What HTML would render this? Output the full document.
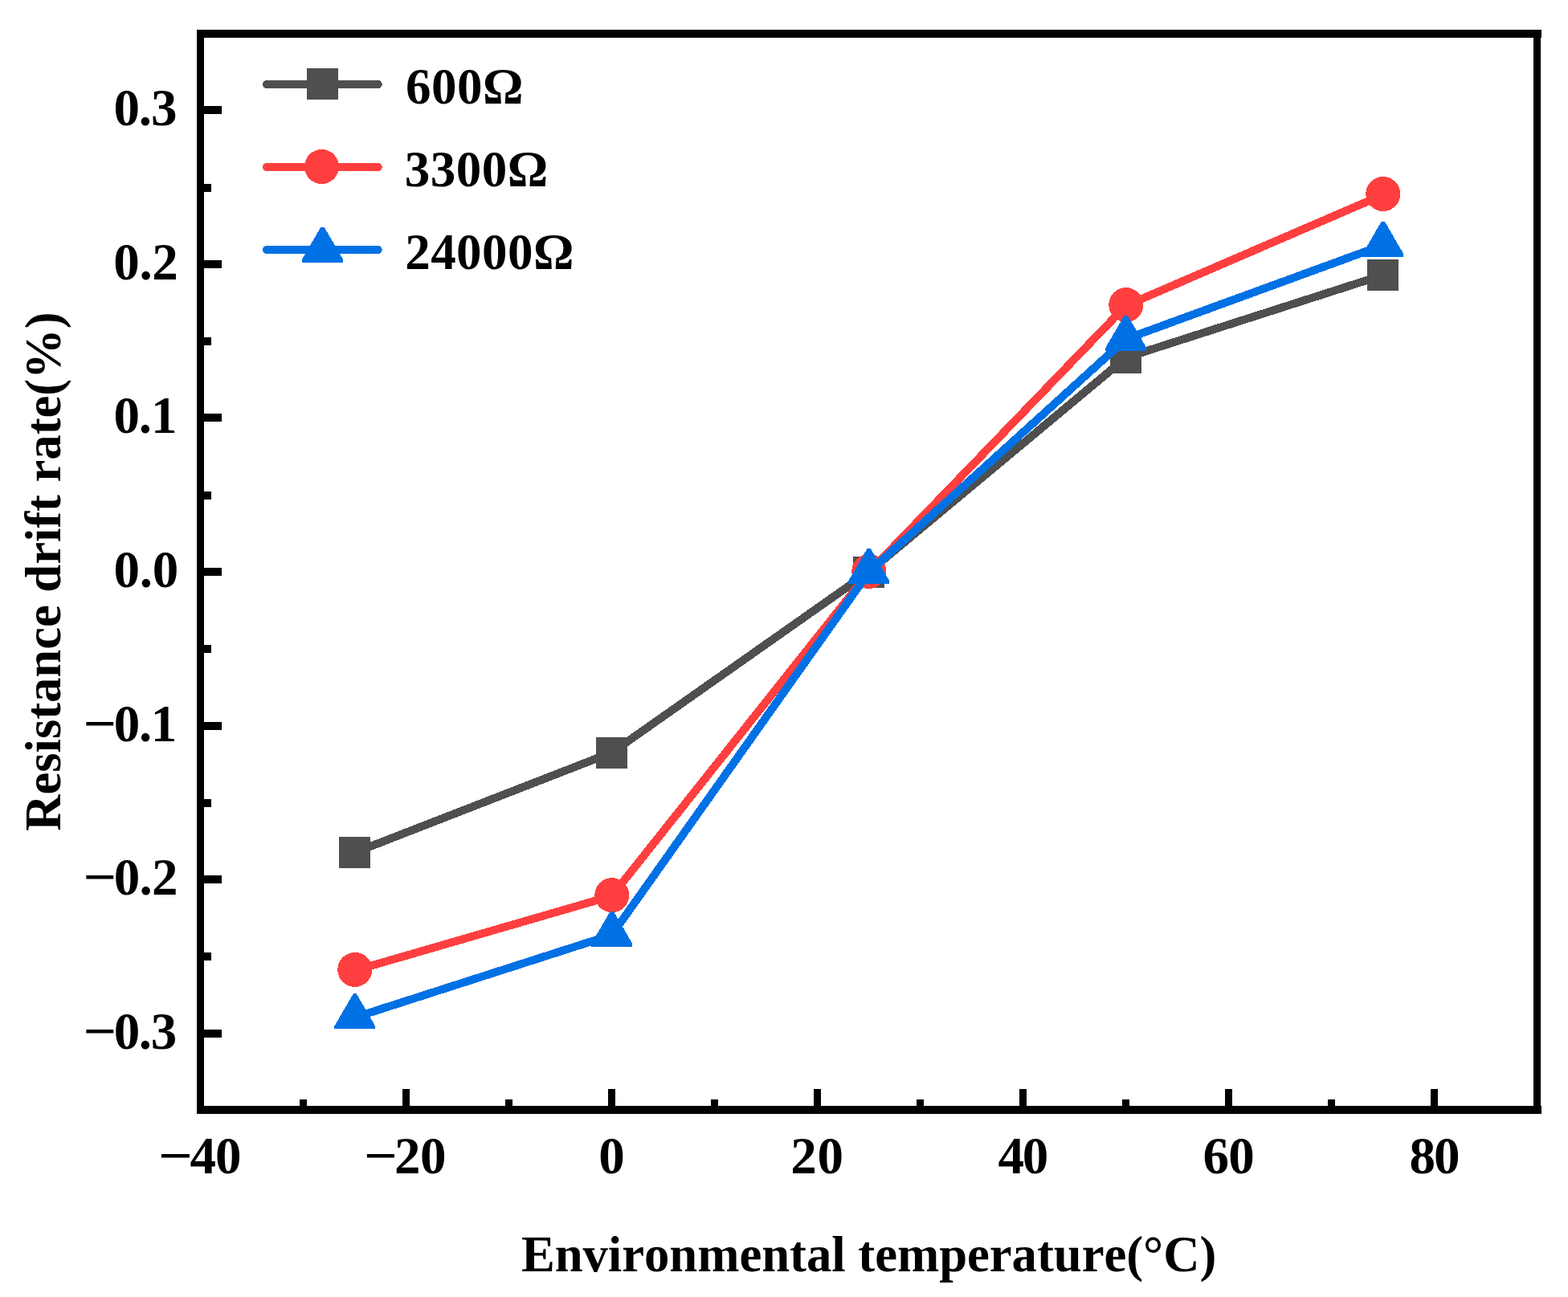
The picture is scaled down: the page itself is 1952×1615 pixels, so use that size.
<!DOCTYPE html><html><head><meta charset="utf-8"><title>Resistance drift rate vs environmental temperature</title><style>
html,body{margin:0;padding:0;background:#fff;width:1952px;height:1615px;overflow:hidden}
svg{display:block}
text{font-family:"Liberation Serif", "Times New Roman", serif;font-weight:bold;fill:#000;font-kerning:none}
</style></head><body>
<svg width="1952" height="1615" viewBox="0 0 1952 1615" shape-rendering="crispEdges">
<rect width="1952" height="1615" fill="#fff"/>
<polyline points="441.75,1061.50 761.75,937.00 1081.75,712.00 1401.75,445.30 1721.75,342.50" fill="none" stroke="#4f4f4f" stroke-width="10" stroke-linejoin="round"/>
<g fill="#4f4f4f">
<rect x="422.25" y="1042.00" width="39" height="39"/>
<rect x="742.25" y="917.50" width="39" height="39"/>
<rect x="1062.25" y="692.50" width="39" height="39"/>
<rect x="1382.25" y="425.80" width="39" height="39"/>
<rect x="1702.25" y="323.00" width="39" height="39"/>
</g>
<polyline points="441.75,1208.40 761.75,1115.60 1081.75,712.50 1401.75,380.60 1721.75,242.50" fill="none" stroke="#ff3f3f" stroke-width="10" stroke-linejoin="round"/>
<g fill="#ff3f3f">
<circle cx="441.75" cy="1207.40" r="21.5"/>
<circle cx="761.75" cy="1114.60" r="21.5"/>
<circle cx="1081.75" cy="711.50" r="21.5"/>
<circle cx="1401.75" cy="379.60" r="21.5"/>
<circle cx="1721.75" cy="241.50" r="21.5"/>
</g>
<polyline points="441.75,1266.90 761.75,1164.00 1081.75,712.30 1401.75,422.10 1721.75,305.20" fill="none" stroke="#0071e5" stroke-width="10" stroke-linejoin="round"/>
<g fill="#0071e5">
<polygon points="439.75,1237.40 443.75,1237.40 467.25,1277.90 467.25,1281.40 416.25,1281.40 416.25,1277.90"/>
<polygon points="759.75,1134.50 763.75,1134.50 787.25,1175.00 787.25,1178.50 736.25,1178.50 736.25,1175.00"/>
<polygon points="1079.75,682.80 1083.75,682.80 1107.25,723.30 1107.25,726.80 1056.25,726.80 1056.25,723.30"/>
<polygon points="1399.75,392.60 1403.75,392.60 1427.25,433.10 1427.25,436.60 1376.25,436.60 1376.25,433.10"/>
<polygon points="1719.75,275.70 1723.75,275.70 1747.25,316.20 1747.25,319.70 1696.25,319.70 1696.25,316.20"/>
</g>
<g fill="#000">
<rect x="245" y="37" width="1674" height="10"/>
<rect x="245" y="1377" width="1674" height="10"/>
<rect x="245" y="37" width="9" height="1350"/>
<rect x="1909" y="37" width="9" height="1350"/>
<rect x="254" y="132" width="22" height="10"/>
<rect x="254" y="324" width="22" height="10"/>
<rect x="254" y="515" width="22" height="10"/>
<rect x="254" y="707" width="22" height="10"/>
<rect x="254" y="899" width="22" height="10"/>
<rect x="254" y="1090" width="22" height="10"/>
<rect x="254" y="1282" width="22" height="10"/>
<rect x="254" y="229" width="9" height="10"/>
<rect x="254" y="420" width="9" height="10"/>
<rect x="254" y="612" width="9" height="10"/>
<rect x="254" y="803" width="9" height="10"/>
<rect x="254" y="995" width="9" height="10"/>
<rect x="254" y="1186" width="9" height="10"/>
<rect x="501" y="1356" width="9" height="21"/>
<rect x="757" y="1356" width="9" height="21"/>
<rect x="1013" y="1356" width="9" height="21"/>
<rect x="1269" y="1356" width="9" height="21"/>
<rect x="1525" y="1356" width="9" height="21"/>
<rect x="1781" y="1356" width="9" height="21"/>
<rect x="373" y="1369" width="9" height="8"/>
<rect x="629" y="1369" width="9" height="8"/>
<rect x="885" y="1369" width="9" height="8"/>
<rect x="1141" y="1369" width="9" height="8"/>
<rect x="1397" y="1369" width="9" height="8"/>
<rect x="1653" y="1369" width="9" height="8"/>
</g>
<line x1="332" y1="105" x2="470.7" y2="105" stroke="#4f4f4f" stroke-width="10" stroke-linecap="round"/>
<rect x="382" y="85" width="39" height="39" fill="#4f4f4f"/>
<text x="505.1" y="129.2" font-size="63" letter-spacing="0.47">600Ω</text>
<line x1="332" y1="208" x2="470.7" y2="208" stroke="#ff3f3f" stroke-width="10" stroke-linecap="round"/>
<circle cx="400.5" cy="207.5" r="21.5" fill="#ff3f3f"/>
<text x="503.7" y="232.2" font-size="63" letter-spacing="0.53">3300Ω</text>
<line x1="332" y1="311" x2="470.7" y2="311" stroke="#0071e5" stroke-width="10" stroke-linecap="round"/>
<g fill="#0071e5"><polygon points="399.50,282.50 403.50,282.50 427.00,323.00 427.00,326.50 376.00,326.50 376.00,323.00"/></g>
<text x="504.2" y="335.2" font-size="63" letter-spacing="0.46">24000Ω</text>
<text x="141.4" y="156.0" font-size="65" letter-spacing="-1.13">0.3</text>
<text x="141.3" y="347.7" font-size="65" letter-spacing="-0.39">0.2</text>
<text x="141.4" y="539.3" font-size="65" letter-spacing="-1.11">0.1</text>
<text x="141.4" y="731.0" font-size="65" letter-spacing="-0.25">0.0</text>
<text transform="translate(103.25,922.7) scale(1.122,1)" font-size="65">−</text>
<text x="141.7" y="922.7" font-size="65" letter-spacing="-1.31">0.1</text>
<text transform="translate(103.25,1114.3) scale(1.122,1)" font-size="65">−</text>
<text x="141.7" y="1114.3" font-size="65" letter-spacing="-0.74">0.2</text>
<text transform="translate(103.25,1306.0) scale(1.122,1)" font-size="65">−</text>
<text x="141.7" y="1306.0" font-size="65" letter-spacing="-1.38">0.3</text>
<text transform="translate(196.73,1460.5) scale(1.158,1)" font-size="65">−</text>
<text x="236.4" y="1460.5" font-size="65" letter-spacing="-0.94">40</text>
<text transform="translate(452.83,1460.5) scale(1.129,1)" font-size="65">−</text>
<text x="491.0" y="1460.5" font-size="65" letter-spacing="-0.49">20</text>
<text x="745.2" y="1460.5" font-size="65" letter-spacing="0.00">0</text>
<text x="984.3" y="1460.5" font-size="65" letter-spacing="0.61">20</text>
<text x="1242.6" y="1460.5" font-size="65" letter-spacing="-2.24">40</text>
<text x="1497.4" y="1460.5" font-size="65" letter-spacing="-0.70">60</text>
<text x="1754.4" y="1460.5" font-size="65" letter-spacing="-1.97">80</text>
<text x="648.9" y="1583" font-size="62.7" letter-spacing="-0.02">Environmental temperature(°C)</text>
<text transform="translate(74.7,1424.7) rotate(-90)" x="389.9" y="0" font-size="62.7" letter-spacing="-0.05">Resistance drift rate(%)</text>
</svg></body></html>
